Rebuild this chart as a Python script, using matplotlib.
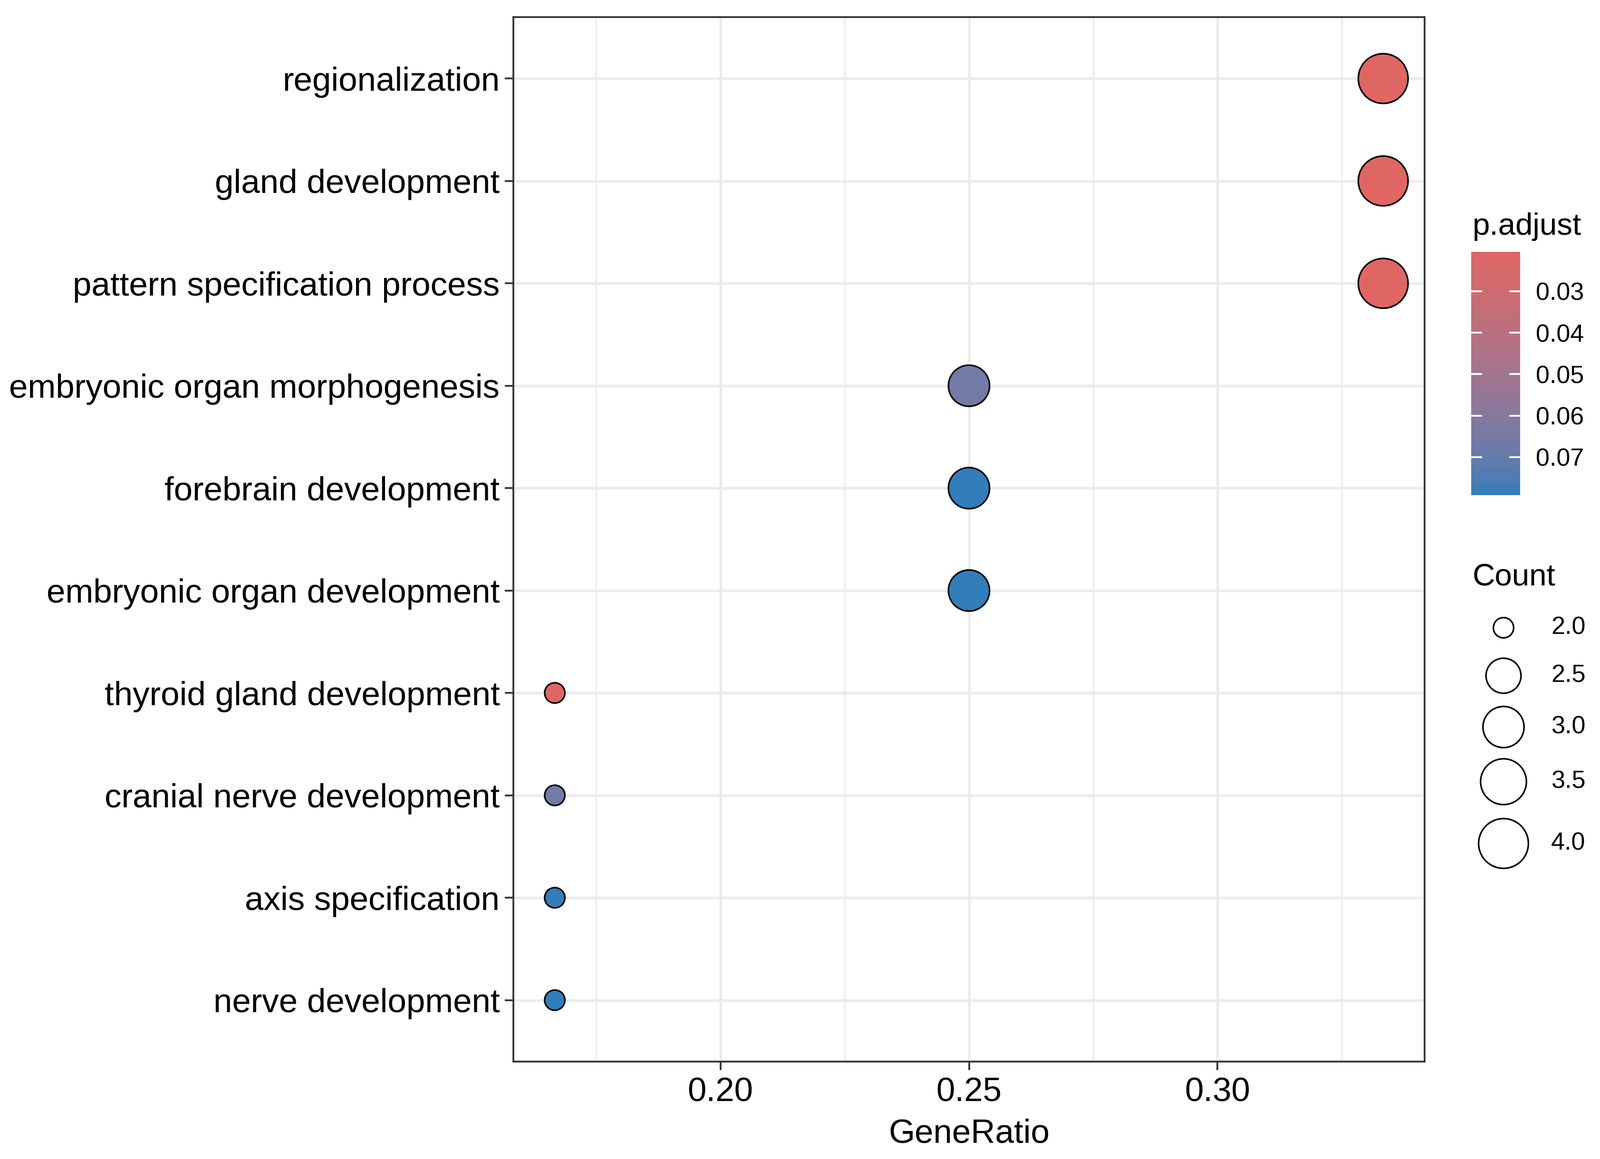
import numpy as np
import matplotlib
matplotlib.use("Agg")
import matplotlib.pyplot as plt
from matplotlib.colors import ListedColormap, Normalize
from matplotlib.ticker import MultipleLocator

plt.rcParams['font.family'] = ['Liberation Sans', 'DejaVu Sans']

# ---------------- data ----------------
categories = [
    "regionalization",
    "gland development",
    "pattern specification process",
    "embryonic organ morphogenesis",
    "forebrain development",
    "embryonic organ development",
    "thyroid gland development",
    "cranial nerve development",
    "axis specification",
    "nerve development",
]
gene_ratio = [4/12, 4/12, 4/12, 3/12, 3/12, 3/12, 2/12, 2/12, 2/12, 2/12]
counts = [4, 4, 4, 3, 3, 3, 2, 2, 2, 2]
p_adjust = [0.0205, 0.0205, 0.0205, 0.0663, 0.0792, 0.0792, 0.0205, 0.0663, 0.0792, 0.0792]

x_ticks = [0.20, 0.25, 0.30]
cbar_ticks = [0.03, 0.04, 0.05, 0.06, 0.07]
size_breaks = [2.0, 2.5, 3.0, 3.5, 4.0]

low_color = "#e06663"
high_color = "#327eba"

# ---------------- colour ramp in CIELAB (as ggplot) ----------------
def _hex_to_rgb(h):
    h = h.lstrip('#')
    return np.array([int(h[i:i + 2], 16) / 255 for i in (0, 2, 4)])

M = np.array([[0.4124564, 0.3575761, 0.1804375],
              [0.2126729, 0.7151522, 0.0721750],
              [0.0193339, 0.1191920, 0.9503041]])
WHITE = np.array([0.95047, 1.0, 1.08883])

def rgb_to_lab(rgb):
    lin = np.where(rgb <= 0.04045, rgb / 12.92, ((rgb + 0.055) / 1.055) ** 2.4)
    xyz = M @ lin / WHITE
    d = 6 / 29
    f = np.where(xyz > d ** 3, np.cbrt(xyz), xyz / (3 * d * d) + 4 / 29)
    return np.array([116 * f[1] - 16, 500 * (f[0] - f[1]), 200 * (f[1] - f[2])])

def lab_to_rgb(lab):
    L, a, b = lab
    fy = (L + 16) / 116
    fx = fy + a / 500
    fz = fy - b / 200
    d = 6 / 29
    f = np.array([fx, fy, fz])
    xyz = np.where(f > d, f ** 3, 3 * d * d * (f - 4 / 29)) * WHITE
    lin = np.linalg.solve(M, xyz)
    lin = np.clip(lin, 0, 1)
    rgb = np.where(lin <= 0.0031308, 12.92 * lin, 1.055 * lin ** (1 / 2.4) - 0.055)
    return np.clip(rgb, 0, 1)

lab_lo = rgb_to_lab(_hex_to_rgb(low_color))
lab_hi = rgb_to_lab(_hex_to_rgb(high_color))
ramp = [lab_to_rgb(lab_lo + t * (lab_hi - lab_lo)) for t in np.linspace(0, 1, 256)]
cmap = ListedColormap(ramp)
pmin, pmax = min(p_adjust), max(p_adjust)
norm = Normalize(vmin=pmin, vmax=pmax)

# ---------------- size scale (area, like scale_size) ----------------
W, H = 3366, 2439
DPI = 300
cmin, cmax = min(counts), max(counts)
EDGE_PT = 0.8

def size_of(c):
    d_px = 46 + 62 * np.sqrt((np.asarray(c, float) - cmin) / (cmax - cmin))
    d_pt = (d_px - EDGE_PT * DPI / 72) * 72 / DPI
    return d_pt ** 2

# ---------------- figure ----------------
fig = plt.figure(figsize=(W / DPI, H / DPI), dpi=DPI)
ax = fig.add_axes([1080 / W, 1 - 2234 / H, (2997 - 1080) / W, (2234 - 36) / H])

n = len(categories)
ypos = np.arange(n)[::-1]

ax.scatter(gene_ratio, ypos, s=size_of(counts), c=p_adjust, cmap=cmap, norm=norm,
           edgecolors='black', linewidths=EDGE_PT, zorder=3, clip_on=False)

xr = max(gene_ratio) - min(gene_ratio)
ax.set_xlim(min(gene_ratio) - 0.05 * xr, max(gene_ratio) + 0.05 * xr)
ax.set_ylim(-0.6, n - 1 + 0.6)
ax.set_yticks(ypos)
ax.set_yticklabels(categories)
ax.set_xticks(x_ticks)
ax.set_xticklabels([f"{v:.2f}" for v in x_ticks])
ax.xaxis.set_minor_locator(MultipleLocator(0.025))

ax.set_axisbelow(True)
ax.grid(which='major', color='#EBEBEB', linewidth=1.3)
ax.grid(which='minor', axis='x', color='#EBEBEB', linewidth=0.7)
ax.tick_params(which='minor', length=0)
ax.tick_params(which='major', length=4.3, width=0.9, color='#333333',
               labelsize=17, labelcolor='black')
ax.tick_params(axis='y', pad=2.6)
ax.tick_params(axis='x', pad=3.5)
for sp in ax.spines.values():
    sp.set_color('#333333')
    sp.set_linewidth(0.9)
ax.set_xlabel("GeneRatio", fontsize=17, labelpad=5)

# ---------------- colour bar legend ----------------
cax = fig.add_axes([3095 / W, 1 - 1042 / H, 103 / W, 512 / H])
grad = np.linspace(pmin, pmax, 256)[:, None]
cax.imshow(grad, aspect='auto', cmap=cmap, norm=norm, extent=[0, 1, pmax, pmin])
cax.set_xlim(0, 1)
cax.set_ylim(pmax, pmin)
cax.set_xticks([])
cax.set_yticks(cbar_ticks)
cax.set_yticklabels([f"{t:.2f}" for t in cbar_ticks])
cax.yaxis.tick_right()
cax.tick_params(axis='y', length=0, pad=8, labelsize=12.5)
for t in cbar_ticks:
    cax.plot([0, 0.2], [t, t], color='white', lw=0.9)
    cax.plot([0.8, 1], [t, t], color='white', lw=0.9)
for sp in cax.spines.values():
    sp.set_visible(False)

fig.text(3098 / W, 1 - 494 / H, "p.adjust", fontsize=15.7, ha='left', va='baseline')

# ---------------- size legend ----------------
lax = fig.add_axes([0, 0, 1, 1])
lax.set_xlim(0, W)
lax.set_ylim(H, 0)
lax.axis('off')
lax.patch.set_alpha(0)
fig.text(3098 / W, 1 - 1232 / H, "Count", fontsize=15.7, ha='left', va='baseline')
legend_y = [1321, 1422, 1530, 1645, 1775]
lax.scatter([3163] * len(size_breaks), legend_y, s=size_of(size_breaks),
            facecolors='white', edgecolors='black', linewidths=EDGE_PT)
for b, yy in zip(size_breaks, legend_y):
    lax.text(3263, yy, f"{b:.1f}", fontsize=12.5, ha='left', va='center')

fig.savefig("out.png", dpi=DPI)
